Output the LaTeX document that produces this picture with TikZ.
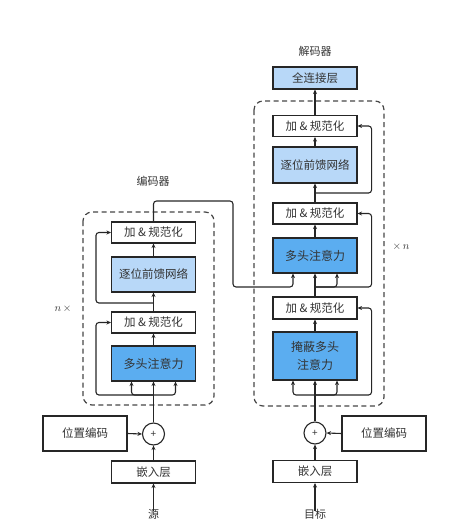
\documentclass[tikz,border=0pt]{standalone}
\usepackage{fontspec}
\setmainfont{Noto Sans CJK SC}
\usetikzlibrary{arrows.meta,calc}
\definecolor{lightb}{HTML}{B8D8F8}
\definecolor{midb}{HTML}{5BADF0}
\definecolor{ink}{HTML}{262626}
\definecolor{txt}{HTML}{333333}
\tikzset{
  blk/.style={draw=ink, line width=1.1pt, minimum width=84pt, text=txt, font=\fontsize{11.5}{13}\selectfont, inner sep=0pt},
  addnorm/.style={blk, fill=white, minimum height=21pt},
  ffn/.style={blk, fill=lightb, minimum height=35pt},
  att/.style={blk, fill=midb, minimum height=35pt, font=\fontsize{12}{18}\selectfont},
  pe/.style={blk, fill=white, minimum height=35pt},
  emb/.style={blk, fill=white, minimum height=22pt},
  plus/.style={circle, draw=ink, line width=1.1pt, minimum size=22pt, inner sep=0pt, text=txt, font=\fontsize{10}{10}\selectfont},
  lbl/.style={text=txt, font=\fontsize{11}{13}\selectfont, inner sep=1pt},
  conn/.style={draw=ink, line width=1.1pt, rounded corners=3pt},
  arr/.style={conn, -{Stealth[length=4.5pt,width=4pt]}},
  dashbox/.style={draw=ink!85, line width=1.2pt, dash pattern=on 5pt off 3.5pt, rounded corners=9pt}
}
\begin{document}
\begin{tikzpicture}[x=1pt,y=-1pt]
\useasboundingbox (0,0) rectangle (474,527);
% dashed frames
\draw[dashbox] (83,212) rectangle (214,405);
\draw[dashbox] (254,101) rectangle (384,406);
% encoder
\node[lbl] (enclbl) at (153,181) {编码器};
\node[addnorm] (eAN2) at (153.5,232.5) {加 \& 规范化};
\node[ffn] (eFFN) at (153.5,274.5) {逐位前馈网络};
\node[addnorm] (eAN1) at (153.5,322.5) {加 \& 规范化};
\node[att] (eMHA) at (153.5,363.5) {多头注意力};
\node[plus] (eplus) at (153.5,434) {+};
\node[pe] (ePE) at (85,433.5) {位置编码};
\node[emb] (eEmb) at (153.5,472) {嵌入层};
\node[lbl] (src) at (153.5,514) {源};
\node[lbl, font=\fontsize{11}{13}\selectfont] (nx) at (63,309) {$n\,\times$};
% decoder
\node[lbl] (declbl) at (315,51) {解码器};
\node[ffn, minimum height=22pt] (dFC) at (315,78) {全连接层};
\node[addnorm] (dAN3) at (315,126) {加 \& 规范化};
\node[ffn, minimum height=36pt] (dFFN) at (315,165) {逐位前馈网络};
\node[addnorm] (dAN2) at (315,213.5) {加 \& 规范化};
\node[att] (dMHA) at (315,255.5) {多头注意力};
\node[addnorm, minimum height=22pt] (dAN1) at (315,308) {加 \& 规范化};
\node[att, minimum height=48pt, align=center] (dMMHA) at (315,356) {掩蔽多头\\注意力};
\node[plus] (dplus) at (315,433) {+};
\node[pe] (dPE) at (384,433.5) {位置编码};
\node[emb] (dEmb) at (315,471.5) {嵌入层};
\node[lbl] (tgt) at (315,514) {目标};
\node[lbl, font=\fontsize{11}{13}\selectfont] (xn) at (401,247) {$\times\, n$};
% encoder connectors
\draw[arr] ([yshift=-3pt]src.north) -- (eEmb.south);
\draw[arr] (eEmb.north) -- (eplus.south);
\draw[arr] (ePE.east) -- (eplus.west);
\draw[arr] (eplus.north) -- (eMHA.south);
\coordinate (eb1) at (153.5,395);
\draw[arr] (eb1) -| ([xshift=-22pt]eMHA.south);
\draw[arr] (eb1) -| ([xshift=22pt]eMHA.south);
\draw[arr] (eb1) -| ($(eAN1.west)+(-15,0)$) -- (eAN1.west);
\draw[arr] (eMHA.north) -- (eAN1.south);
\draw[arr] (eAN1.north) -- (eFFN.south);
\coordinate (eb2) at (153.5,303);
\draw[arr] (eb2) -| ($(eAN2.west)+(-15,0)$) -- (eAN2.west);
\draw[arr] (eFFN.north) -- (eAN2.south);
\coordinate (eo1) at (233,201);
\coordinate (eo2) at (233,287);
\draw[arr] (eAN2.north) |- (eo1) -- (eo2) -| ([xshift=-22pt]dMHA.south);
% decoder connectors
\draw[arr] ([yshift=-3pt]tgt.north) -- (dEmb.south);
\draw[arr] (dEmb.north) -- (dplus.south);
\draw[arr] (dPE.west) -- (dplus.east);
\draw[arr] (dplus.north) -- (dMMHA.south);
\coordinate (db1) at (315,395);
\draw[arr] (db1) -| ([xshift=-22pt]dMMHA.south);
\draw[arr] (db1) -| ([xshift=22pt]dMMHA.south);
\draw[arr] (db1) -| ($(dAN1.east)+(14,0)$) -- (dAN1.east);
\draw[arr] (dMMHA.north) -- (dAN1.south);
\draw[arr] (dAN1.north) -- (dMHA.south);
\coordinate (db2) at (315,287);
\draw[arr] (db2) -| ([xshift=22pt]dMHA.south);
\draw[arr] (db2) -| ($(dAN2.east)+(14,0)$) -- (dAN2.east);
\draw[arr] (dMHA.north) -- (dAN2.south);
\draw[arr] (dAN2.north) -- (dFFN.south);
\coordinate (db3) at (315,193);
\draw[arr] (db3) -| ($(dAN3.east)+(14,0)$) -- (dAN3.east);
\draw[arr] (dFFN.north) -- (dAN3.south);
\draw[arr] (dAN3.north) -- (dFC.south);
\end{tikzpicture}
\end{document}
